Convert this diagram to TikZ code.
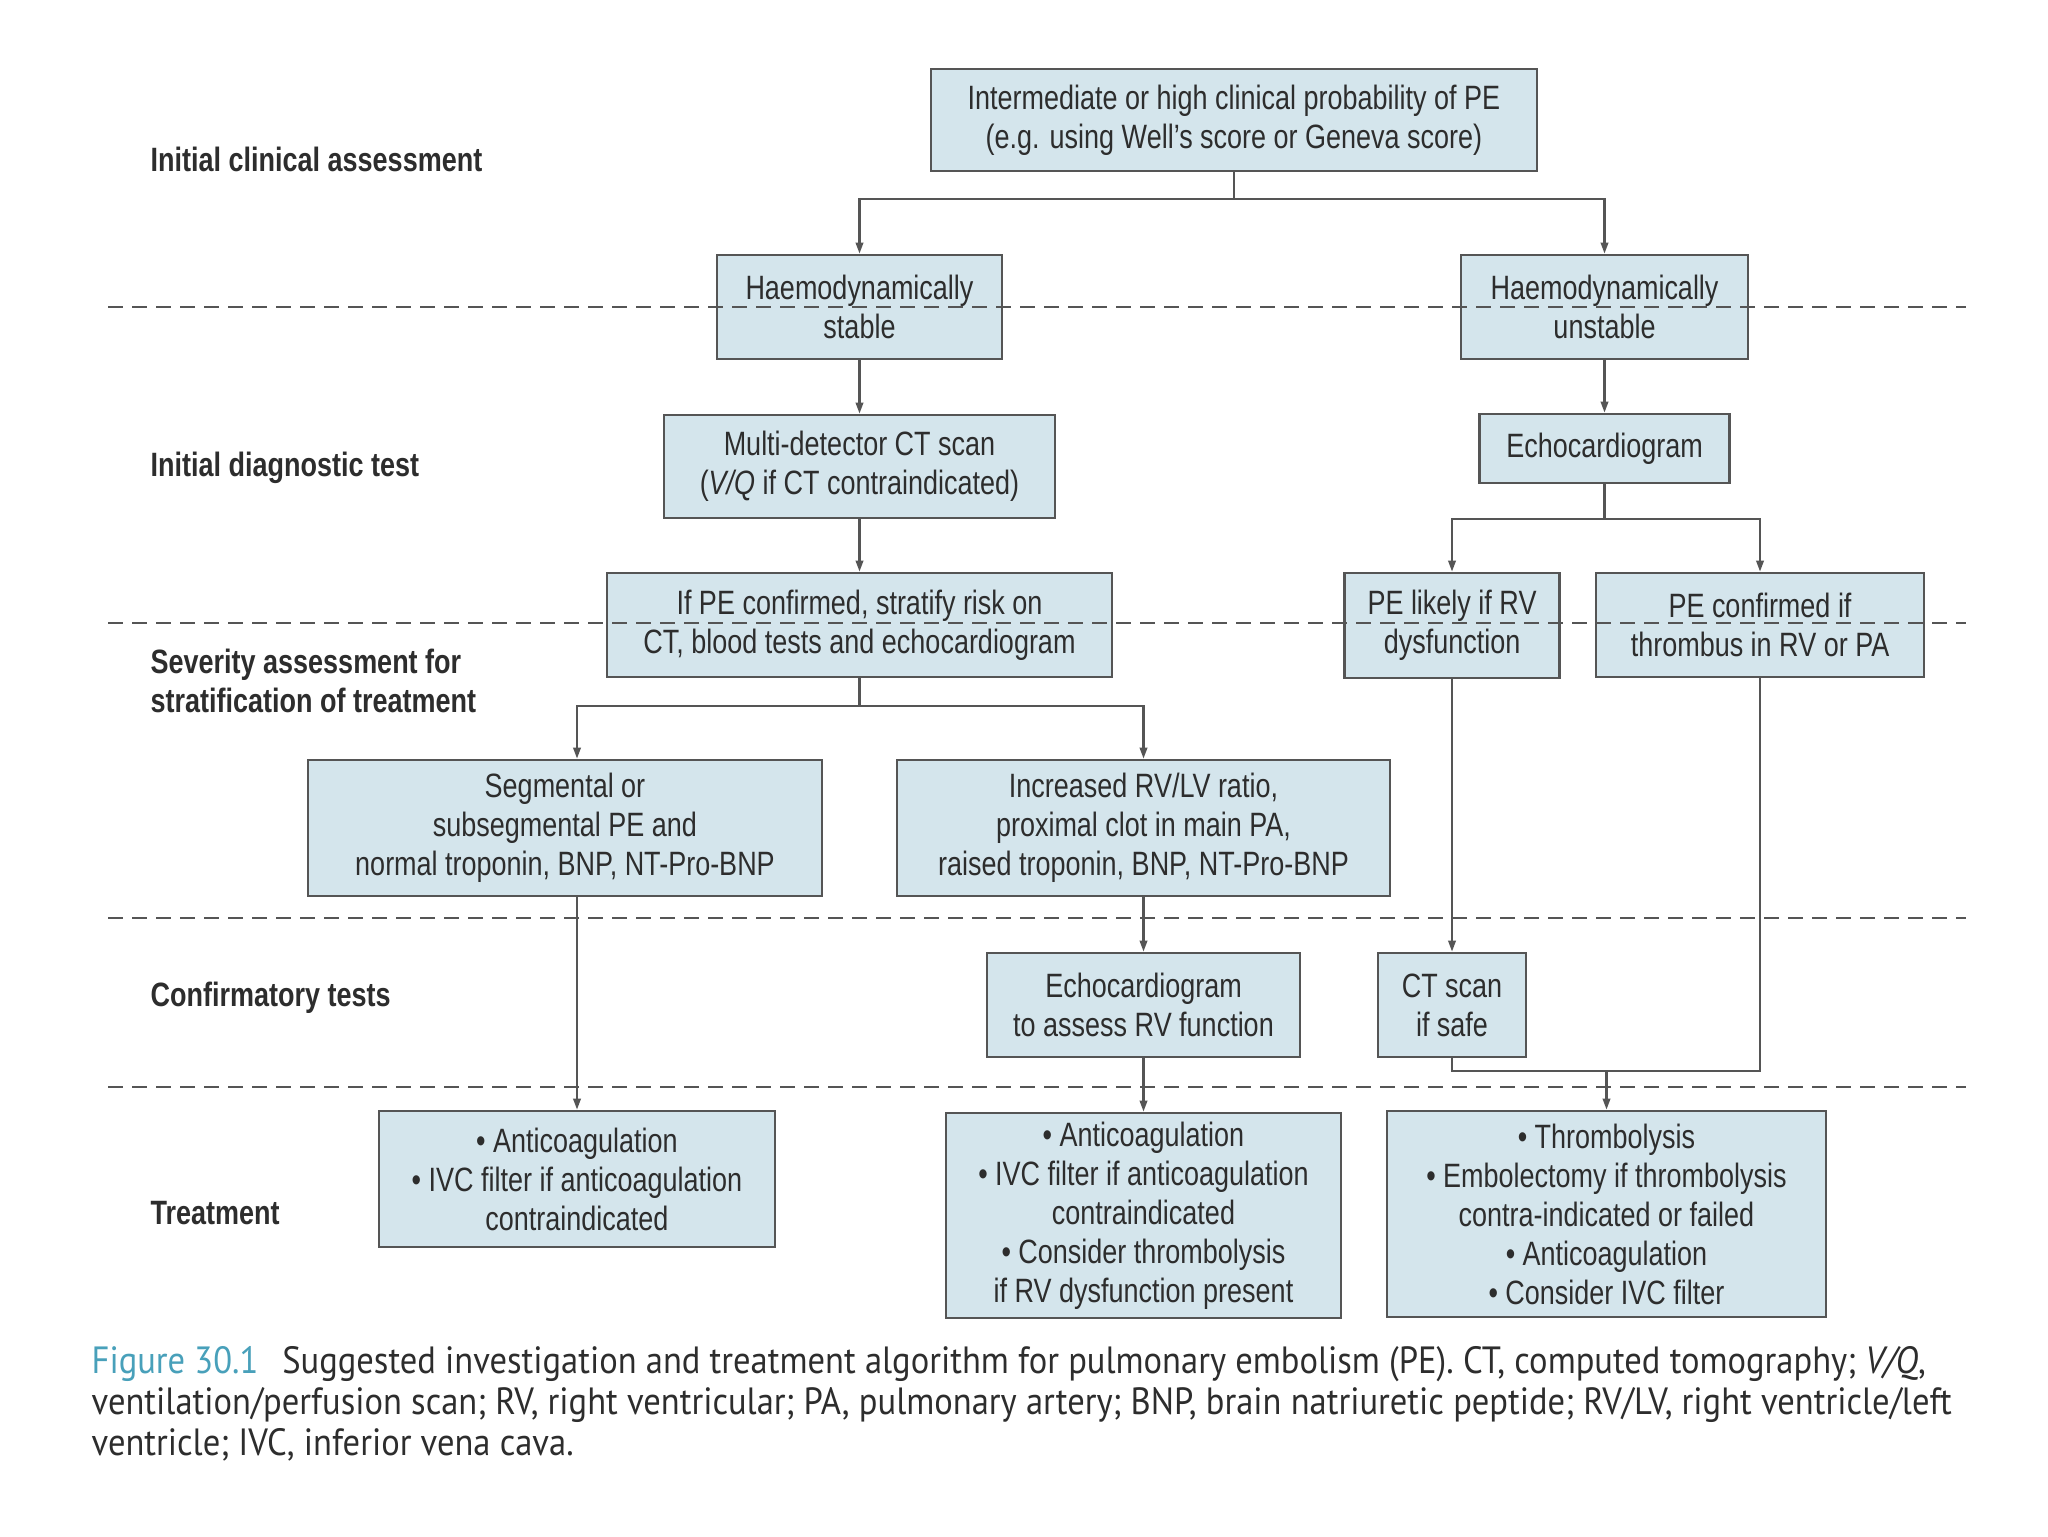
\documentclass[tikz,border=0pt]{standalone}
\usepackage{fontspec}
\setmainfont{Liberation Sans}[FakeStretch=0.8]
\newfontfamily\capfont{PT Sans}[FakeStretch=0.91]
\usetikzlibrary{arrows.meta,calc}
\definecolor{boxfill}{RGB}{212,229,236}
\definecolor{boxline}{RGB}{85,85,85}
\definecolor{txt}{RGB}{45,45,45}
\definecolor{figcol}{RGB}{72,160,186}
\newcommand\boxfont{\fontsize{9.6pt}{11.1pt}\selectfont}
\begin{document}
\begin{tikzpicture}[x=0.1mm,y=-0.1mm,
  bx/.style={draw=boxline,line width=0.8pt,fill=boxfill,text=txt,align=center,font=\boxfont,inner sep=0pt},
  sz/.style 2 args={minimum width=#1*0.1mm,minimum height=#2*0.1mm},
  lbl/.style={anchor=west,align=left,text=txt,font=\boxfont\bfseries,inner sep=0pt},
  conn/.style={draw=boxline,line width=0.6pt},
  arr/.style={conn,-{Triangle[length=1.1mm,width=0.75mm]}},
  sep/.style={draw=boxline,line width=0.6pt,dash pattern=on 1.5mm off 0.9mm}]
\useasboundingbox (0,0) rectangle (2048,1536);
\fill[white] (0,0) rectangle (2048,1536);

% boxes
\node[bx,sz={606}{102}] (top) at (1234,120) {Intermediate or high clinical probability of PE\\(e.g. using Well’s score or Geneva score)};
\node[bx,sz={285}{104}] (stable) at (859.5,307) {Haemodynamically\\stable};
\node[bx,sz={287}{104}] (unstable) at (1604.5,307) {Haemodynamically\\unstable};
\node[bx,sz={391}{103}] (ct) at (859.5,466.5) {Multi-detector CT scan\\(\textit{V/Q} if CT contraindicated)};
\node[bx,sz={250}{69}] (echo) at (1604.5,448.5) {Echocardiogram};
\node[bx,sz={505}{104}] (conf) at (859.5,625) {If PE confirmed, stratify risk on\\CT, blood tests and echocardiogram};
\node[bx,sz={215}{105}] (likely) at (1452,625.5) {PE likely if RV\\dysfunction};
\node[bx,sz={328}{104}] (thromb) at (1760,625) {PE confirmed if\\thrombus in RV or PA};
\node[bx,sz={514}{136}] (seg) at (565,828) {Segmental or\\subsegmental PE and\\normal troponin, BNP, NT-Pro-BNP};
\node[bx,sz={493}{136}] (incr) at (1143.5,828) {Increased RV/LV ratio,\\proximal clot in main PA,\\raised troponin, BNP, NT-Pro-BNP};
\node[bx,sz={313}{104}] (echo2) at (1143.5,1005) {Echocardiogram\\to assess RV function};
\node[bx,sz={148}{104}] (ctsafe) at (1452,1005) {CT scan\\if safe};
\node[bx,sz={396}{136}] (t1) at (577,1179) {• Anticoagulation\\• IVC filter if anticoagulation\\contraindicated};
\node[bx,sz={395}{205}] (t2) at (1143.5,1215.5) {• Anticoagulation\\• IVC filter if anticoagulation\\contraindicated\\• Consider thrombolysis\\if RV dysfunction present};
\node[bx,sz={439}{206}] (t3) at (1606.5,1214) {• Thrombolysis\\• Embolectomy if thrombolysis\\contra-indicated or failed\\• Anticoagulation\\• Consider IVC filter};

% left labels
\node[lbl] (l1) at (150,159) {Initial clinical assessment};
\node[lbl] (l2) at (150,468) {Initial diagnostic test};
\node[lbl] (l3) at (150,680.5) {Severity assessment for\\stratification of treatment};
\node[lbl] (l4) at (150,998) {Confirmatory tests};
\node[lbl] (l5) at (150,1213) {Treatment};

% connectors
\path (top.south) ++(0,27) coordinate (j1);
\draw[conn] (top.south) -- (j1);
\draw[arr] (j1) -| (stable.north);
\draw[arr] (j1) -| (unstable.north);
\draw[arr] (stable.south) -- (ct.north);
\draw[arr] (unstable.south) -- (echo.north);
\draw[arr] (ct.south) -- (conf.north);
\path (echo.south) ++(0,35) coordinate (j2);
\draw[conn] (echo.south) -- (j2);
\draw[arr] (j2) -| (likely.north);
\draw[arr] (j2) -| (thromb.north);
\path (conf.south) ++(0,28) coordinate (j3);
\draw[conn] (conf.south) -- (j3);
\draw[arr] (j3) -| (t1.north |- seg.north);
\draw[arr] (j3) -| (incr.north);
\draw[arr] (t1.north |- seg.south) -- (t1.north);
\draw[arr] (incr.south) -- (echo2.north);
\draw[arr] (echo2.south) -- (t2.north);
\draw[arr] (likely.south) -- (ctsafe.north);
\path (t3.north) ++(0,-39) coordinate (j4);
\draw[conn] (ctsafe.south) |- (thromb.south |- j4) -- (thromb.south);
\draw[arr] (j4) -- (t3.north);

% dashed separators
\draw[sep] (108,307) -- (1966,307);
\draw[sep] (108,623) -- (1966,623);
\draw[sep] (108,918) -- (1966,918);
\draw[sep] (108,1087) -- (1966,1087);

% caption
\node[anchor=north west,align=left,inner sep=0pt,text=txt,font=\capfont\fontsize{10.8pt}{11.6pt}\selectfont] (cap) at (91,1346)
{{\color{figcol}Figure 30.1}\hspace{2.4mm}Suggested investigation and treatment algorithm for pulmonary embolism (PE). CT, computed tomography; \textit{V/Q},\\
ventilation/perfusion scan; RV, right ventricular; PA, pulmonary artery; BNP, brain natriuretic peptide; RV/LV, right ventricle/left\\
ventricle; IVC, inferior vena cava.};
\end{tikzpicture}
\end{document}
